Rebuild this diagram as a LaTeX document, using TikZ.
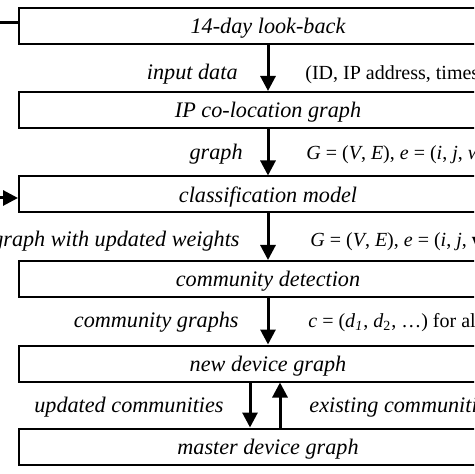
\documentclass[tikz,border=0pt]{standalone}
\usepackage{fontspec}
\setmainfont{Liberation Serif}
\usetikzlibrary{arrows.meta,calc}
\begin{document}
\begin{tikzpicture}[x=0.5pt,y=-0.5pt,
  box/.style={draw, line width=1pt, minimum width=249pt, minimum height=18pt,
    inner sep=0pt, text height=8pt, text depth=0pt,
    font=\fontsize{11.1pt}{13pt}\selectfont\itshape},
  arr/.style={line width=1.5pt, -{Triangle[length=7.5pt,width=7.5pt]}},
  lab/.style={inner sep=0pt, font=\fontsize{11.1pt}{13pt}\selectfont\itshape},
  rtext/.style={inner sep=0pt, font=\fontsize{10pt}{12pt}\selectfont}]
\useasboundingbox (0,0) rectangle (474,474);
\clip (0,0) rectangle (474,474);

\node[box] (b1) at (268,26) {14-day look-back};
\node[box] (b2) at (268,110) {IP co-location graph};
\node[box] (b3) at (268,194.5) {classification model};
\node[box] (b4) at (268,279) {community detection};
\node[box] (b5) at (268,363.5) {new device graph};
\node[box] (b6) at (268,446.5) {master device graph};

\draw[arr] (b1) -- (b2);
\draw[arr] (b2) -- (b3);
\draw[arr] (b3) -- (b4);
\draw[arr] (b4) -- (b5);
\draw[arr] ($(b5.south)+(-18,0)$) -- ($(b6.north)+(-18,0)$);
\draw[arr] ($(b6.north)+(12,0)$) -- ($(b5.south)+(12,0)$);

\coordinate (lt) at (0,23);
\draw[line width=1.5pt] (lt) -- (lt -| b1.west);
\coordinate (la) at (0,198);
\draw[arr] (la) -- (la -| b3.west);

\node[lab, anchor=base east] (l1) at (238,80) {input data};
\node[rtext, anchor=base west] (r1) at (305,80) {(ID, IP address, timestamp)};
\node[lab, anchor=base east] (l2) at (243,160) {graph};
\node[rtext, anchor=base west] (r2) at (306,160) {\textit{G} = (\textit{V}, \textit{E}), \textit{e} = (\textit{i}, \textit{j}, \textit{w})};
\node[lab, anchor=base east] (l3) at (240,247) {graph with updated weights};
\node[rtext, anchor=base west] (r3) at (310,247) {\textit{G} = (\textit{V}, \textit{E}), \textit{e} = (\textit{i}, \textit{j}, \textbf{w})};
\node[lab, anchor=base east] (l4) at (239,328) {community graphs};
\node[rtext, anchor=base west] (r4) at (308,328) {\textit{c} = (\textit{d}\textsubscript{\textit{1}}, \textit{d}\textsubscript{2}, \dots) for all communities};
\node[lab, anchor=base east] (l6) at (224,412) {updated communities};
\node[lab, anchor=base west] (r6) at (309,412) {existing communities};
\end{tikzpicture}
\end{document}
